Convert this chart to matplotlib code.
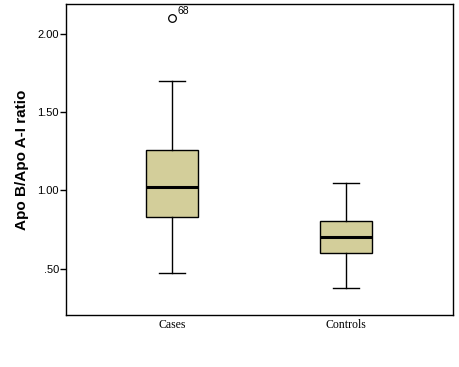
import numpy as np
import matplotlib.pyplot as plt
from matplotlib.ticker import FuncFormatter

# Werte
groups   = ["Cases", "Controls"]
whislo   = [0.47, 0.38]
q1       = [0.83, 0.60]
medians  = [1.02, 0.70]
q3       = [1.26, 0.805]
whishi   = [1.70, 1.05]
outliers = [[2.10], []]
outlier_ids = [["68"], []]
yticks   = [0.5, 1.0, 1.5, 2.0]

box_color = "#D3CE9A"

fig = plt.figure(figsize=(4.59, 3.67), dpi=100)
ax = fig.add_axes([66/459, 52/367, 387/459, 311/367])

stats = []
for i, g in enumerate(groups):
    stats.append(dict(label=g, whislo=whislo[i], q1=q1[i], med=medians[i],
                      q3=q3[i], whishi=whishi[i], fliers=outliers[i]))

pos = np.arange(1, len(groups) + 1)
ax.bxp(stats, positions=pos, widths=0.30, patch_artist=True,
       showfliers=True,
       boxprops=dict(facecolor=box_color, edgecolor="black", lw=1.0),
       medianprops=dict(color="black", lw=2.2),
       whiskerprops=dict(color="black", lw=1.0),
       capprops=dict(color="black", lw=1.0),
       capwidths=0.15,
       flierprops=dict(marker="o", mfc="white", mec="black", ms=5.5, mew=0.9))

# Ausreißer beschriften
for i in range(len(groups)):
    for val, lab in zip(outliers[i], outlier_ids[i]):
        ax.annotate(lab, (pos[i], val), textcoords="offset points",
                    xytext=(4, 3), fontsize=7.5, family="Liberation Sans")

ax.set_xlim(0.39, 2.615)
ax.set_ylim(0.205, 2.19)
ax.set_yticks(yticks)
ax.yaxis.set_major_formatter(FuncFormatter(
    lambda v, p: f"{v:.2f}".lstrip("0") if v < 1 else f"{v:.2f}"))
ax.set_xticks(pos)
ax.set_xticklabels(groups, family="Liberation Serif", fontsize=8.5)
ax.tick_params(axis="x", length=0, pad=3)
ax.tick_params(axis="y", length=4, width=1, labelsize=8, pad=1)
for t in ax.get_yticklabels():
    t.set_family("Liberation Sans")

ax.set_ylabel("Apo B/Apo A-I ratio", family="Liberation Sans",
              fontsize=11, fontweight="bold", labelpad=6)

for s in ax.spines.values():
    s.set_linewidth(1.0)

fig.savefig("out.png", dpi=100)
